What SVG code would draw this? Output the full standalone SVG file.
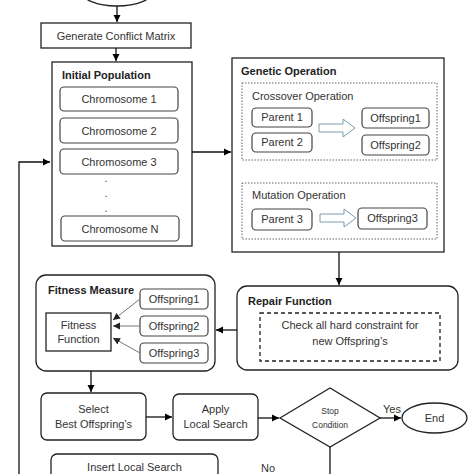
<svg xmlns="http://www.w3.org/2000/svg" width="474" height="474" viewBox="0 0 474 474">
<defs>
<marker id="ah" markerWidth="8" markerHeight="8" refX="7" refY="4" orient="auto" markerUnits="userSpaceOnUse">
<path d="M0,0.5 L7,4 L0,7.5 Z" fill="#000"/>
</marker>
<marker id="ahg" markerWidth="8" markerHeight="8" refX="7" refY="4" orient="auto" markerUnits="userSpaceOnUse">
<path d="M0,0.5 L7,4 L0,7.5 Z" fill="#222"/>
</marker>
</defs>
<style>
text{font-family:"Liberation Sans",Arial,sans-serif;font-size:11px;fill:#333}
.t{font-weight:bold;fill:#222}
.c{text-anchor:middle}
.box{fill:#fff;stroke:#222;stroke-width:1.3}
.sub{fill:#fff;stroke:#444;stroke-width:1.2}
.dot{fill:none;stroke:#666;stroke-width:1;stroke-dasharray:1.5 1.5}
.dash{fill:none;stroke:#222;stroke-width:1.3;stroke-dasharray:4 3}
.ln{fill:none;stroke:#111;stroke-width:1.3}
.gl{fill:none;stroke:#777;stroke-width:1}
.blk{fill:#fff;stroke:#7a9cb0;stroke-width:1}
</style>
<rect width="474" height="474" fill="#fff"/>

<g id="start"><ellipse cx="117" cy="-9" rx="36" ry="15" class="box"/></g>

<g id="conflict"><rect x="41" y="23" width="150" height="25" class="box"/><text x="116" y="40" class="c">Generate Conflict Matrix</text></g>

<g id="initial">
<rect x="52" y="62" width="140" height="184" class="box"/>
<text x="62" y="79" class="t">Initial Population</text>
<rect x="60" y="87" width="118" height="24" rx="4" class="sub"/><text x="119" y="103" class="c">Chromosome 1</text>
<rect x="60" y="118" width="118" height="25" rx="4" class="sub"/><text x="119" y="135" class="c">Chromosome 2</text>
<rect x="60" y="149" width="118" height="25" rx="4" class="sub"/><text x="119" y="166" class="c">Chromosome 3</text>
<text x="106" y="182" class="c">.</text><text x="106" y="197" class="c">.</text><text x="106" y="212" class="c">.</text>
<rect x="61" y="216" width="118" height="25" rx="4" class="sub"/><text x="120" y="233" class="c">Chromosome N</text>
</g>

<g id="genetic">
<rect x="232" y="58" width="212" height="194" class="box"/>
<text x="241" y="75" class="t">Genetic Operation</text>
<rect x="242" y="83" width="195" height="77" class="dot"/>
<text x="252" y="100">Crossover Operation</text>
<rect x="252" y="108" width="60" height="19" rx="4" class="sub"/><text x="282" y="121" class="c">Parent 1</text>
<rect x="252" y="133" width="60" height="19" rx="4" class="sub"/><text x="282" y="146" class="c">Parent 2</text>
<rect x="362" y="108" width="67" height="20" rx="4" class="sub"/><text x="395.5" y="122" class="c">Offspring1</text>
<rect x="362" y="135" width="67" height="20" rx="4" class="sub"/><text x="395.5" y="149" class="c">Offspring2</text>
<path d="M319,124 L343,124 L343,119 L355,128 L343,137 L343,132 L319,132 Z" class="blk"/>
<rect x="242" y="183" width="195" height="56" class="dot"/>
<text x="252" y="199">Mutation Operation</text>
<rect x="252" y="209" width="60" height="21" rx="4" class="sub"/><text x="282" y="223" class="c">Parent 3</text>
<rect x="358" y="208" width="69" height="21" rx="4" class="sub"/><text x="392.5" y="222" class="c">Offspring3</text>
<path d="M320,214 L344,214 L344,209 L356,218 L344,227 L344,222 L320,222 Z" class="blk"/>
</g>

<g id="repair">
<rect x="237" y="286" width="221" height="84" rx="10" class="box"/>
<text x="248" y="305" class="t">Repair Function</text>
<rect x="260" y="313" width="180" height="48" class="dash"/>
<text x="350" y="329" class="c">Check all hard constraint for</text>
<text x="350" y="345" class="c">new Offspring’s</text>
</g>

<g id="fitness">
<rect x="36" y="275" width="179" height="96" rx="10" class="box"/>
<text x="48" y="294" class="t">Fitness Measure</text>
<rect x="46" y="313" width="65" height="38" class="box"/>
<text x="78.5" y="329" class="c">Fitness</text><text x="78.5" y="343" class="c">Function</text>
<rect x="140" y="289" width="68" height="20" rx="4" class="sub"/><text x="174" y="303" class="c">Offspring1</text>
<rect x="140" y="316" width="68" height="20" rx="4" class="sub"/><text x="174" y="330" class="c">Offspring2</text>
<rect x="140" y="343" width="68" height="20" rx="4" class="sub"/><text x="174" y="357" class="c">Offspring3</text>
</g>

<g id="select"><rect x="41" y="393" width="105" height="47" rx="6" class="box"/><text x="93.5" y="413" class="c">Select</text><text x="93.5" y="428" class="c">Best Offspring’s</text></g>

<g id="apply"><rect x="173" y="394" width="85" height="46" rx="6" class="box"/><text x="215.5" y="413" class="c">Apply</text><text x="215.5" y="428" class="c">Local Search</text></g>

<g id="stop"><path d="M280,418 L330,388 L380,418 L330,447 Z" class="box"/><text x="330" y="414" class="c" style="font-size:8.5px">Stop</text><text x="330" y="428" class="c" style="font-size:8.5px">Condition</text></g>

<g id="end"><ellipse cx="434.5" cy="418" rx="32.5" ry="15" class="box"/><text x="434.5" y="422" class="c">End</text></g>

<g id="insert"><rect x="51" y="454" width="167" height="40" rx="6" class="box"/><text x="134.5" y="471" class="c">Insert Local Search</text></g>

<g id="connectors">
<line x1="117" y1="6" x2="117" y2="22" class="ln" marker-end="url(#ah)"/>
<line x1="116" y1="48" x2="116" y2="61" class="ln" marker-end="url(#ah)"/>
<line x1="192" y1="152" x2="231" y2="152" class="ln" marker-end="url(#ah)"/>
<line x1="339" y1="252" x2="339" y2="285" class="ln" marker-end="url(#ah)"/>
<line x1="237" y1="330" x2="216" y2="330" class="ln" marker-end="url(#ah)"/>
<line x1="140" y1="299" x2="113" y2="320" class="gl" marker-end="url(#ahg)"/>
<line x1="140" y1="326" x2="113" y2="326" class="gl" marker-end="url(#ahg)"/>
<line x1="140" y1="353" x2="113" y2="338" class="gl" marker-end="url(#ahg)"/>
<line x1="91" y1="371" x2="91" y2="392" class="ln" marker-end="url(#ah)"/>
<line x1="146" y1="417" x2="172" y2="417" class="ln" marker-end="url(#ah)"/>
<line x1="258" y1="418" x2="279" y2="418" class="ln" marker-end="url(#ah)"/>
<line x1="380" y1="418" x2="401" y2="418" class="ln" marker-end="url(#ah)"/>
<line x1="330" y1="447" x2="330" y2="474" class="ln"/>
<polyline points="19,474 19,162 50,162" class="ln" marker-end="url(#ah)"/>
<text x="383" y="413">Yes</text>
<text x="261" y="472">No</text>
</g>
</svg>
